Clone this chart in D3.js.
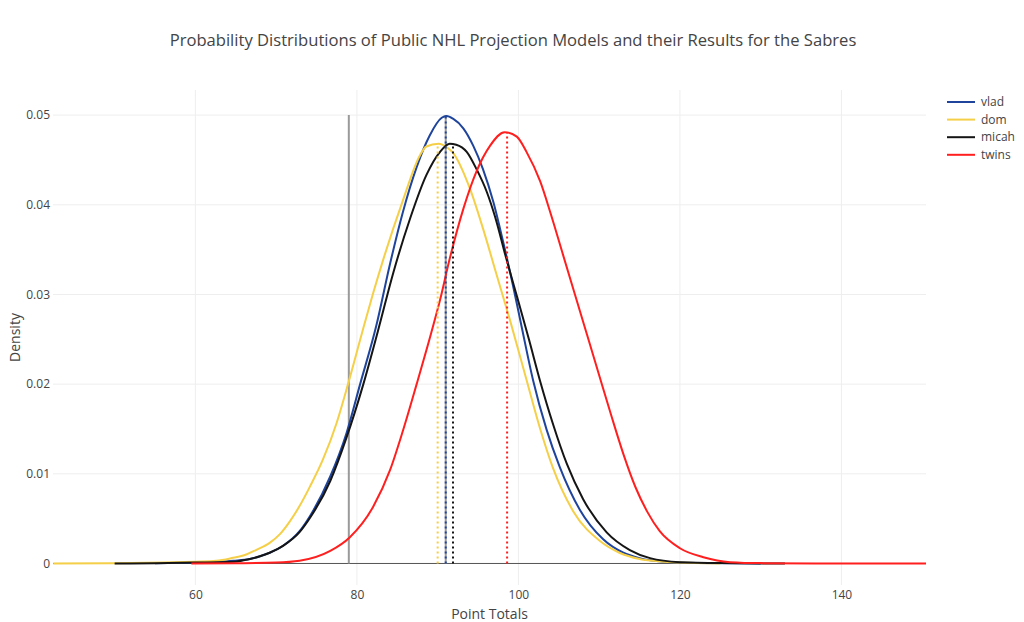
<!DOCTYPE html>
<html>
<head>
<meta charset="utf-8">
<title>Sabres projection models</title>
<script src="https://d3js.org/d3.v7.min.js"></script>
<style>
  body { margin: 0; background: #fff; }
  text { font-family: "Open Sans", "DejaVu Sans", sans-serif; fill: #444; }
</style>
</head>
<body>
<svg width="1024" height="622"></svg>
<script>
// density curves, [points, density]
var vlad = [[55,0.00003],[60,0.0001],[64.7,0.0003],[66.75,0.0005],[68,0.0008],[69.2,0.0012],[70.9,0.0020],[72.9,0.0036],[74.2,0.0053],[76.7,0.0097],[78.7,0.0145],[80.4,0.0200],[82.4,0.0265],[84.1,0.0334],[85.7,0.0392],[87.4,0.0442],[89.0,0.0477],[90.5,0.0497],[91.1,0.0499],[91.9,0.0496],[93.2,0.0485],[94.4,0.0466],[95.6,0.0440],[96.9,0.0403],[98.1,0.0359],[99.4,0.0307],[100.4,0.0264],[101.8,0.0205],[103.5,0.0149],[105.1,0.0108],[107.6,0.0060],[110.5,0.0027],[113,0.0012],[115,0.0006],[118,0.0002],[122,0.00006],[130,0]];
var dom = [[42.4,0],[50,0.00002],[56,0.0001],[60,0.0002],[62.6,0.0003],[64.5,0.0006],[66.3,0.0010],[67.5,0.0015],[69.2,0.0023],[70.5,0.0033],[71.7,0.0047],[72.9,0.0064],[74.2,0.0086],[75.8,0.0116],[77.5,0.0157],[78.9,0.0200],[80.6,0.0256],[82.0,0.0301],[83.3,0.0340],[85.7,0.0405],[87.8,0.0455],[88.6,0.0465],[90.1,0.0468],[91.3,0.0463],[91.9,0.0458],[94.0,0.0418],[95.6,0.0374],[97.3,0.0322],[99.0,0.0270],[101.0,0.0205],[102.7,0.0150],[104.3,0.0106],[106.8,0.0058],[110.1,0.0025],[112.5,0.0012],[115,0.0005],[118,0.0002],[121,0.00007],[125,0]];
var micah = [[50,0],[55,0.00003],[60,0.0001],[64.7,0.0002],[66.75,0.0005],[68,0.0008],[69.2,0.0012],[70.9,0.0020],[72.9,0.0035],[74.2,0.0051],[76.7,0.0092],[78.7,0.0140],[80.8,0.0200],[82.6,0.0259],[84.5,0.0324],[86.6,0.0385],[88.6,0.0433],[90.3,0.0459],[91.5,0.0468],[92.3,0.0467],[93.6,0.0459],[94.8,0.0440],[96.1,0.0414],[97.1,0.0387],[98.5,0.0340],[100.0,0.0292],[101.3,0.0250],[102.7,0.0203],[104.3,0.0155],[106.0,0.0111],[108.0,0.0072],[110.9,0.0035],[113.8,0.0015],[116.3,0.0006],[120,0.00015],[125,0.00004],[133,0]];
var twins = [[59.5,0],[65,0.00003],[70,0.0001],[72.9,0.0003],[76.7,0.0014],[79.1,0.0029],[82.0,0.0063],[84.1,0.0104],[85.7,0.0148],[87.4,0.0200],[89.2,0.0257],[90.3,0.0294],[91.5,0.0340],[93.2,0.0396],[94.8,0.0437],[96.5,0.0466],[98.3,0.0481],[99.8,0.0476],[101.0,0.0459],[102.7,0.0426],[104.0,0.0390],[105.5,0.0345],[107.0,0.0300],[108.5,0.0255],[110.0,0.0210],[111.5,0.0165],[113.0,0.0122],[114.5,0.0085],[116.0,0.0057],[117.5,0.0036],[120.0,0.0017],[122.9,0.0007],[126.2,0.00015],[130,0.00004],[140,0],[150.47,0]];

var seriesNames = ["vlad", "dom", "micah", "twins"];
var seriesColors = ["#1f449c", "#f5cf47", "#151515", "#ff1f1f"];
// model means (dotted) and peak heights
var means = [91.0, 90.0, 91.9, 98.6];
var meanHeights = [0.0499, 0.0468, 0.0468, 0.0481];
// solid grey markers
var greyLines = [79, 91.0];
var greyHeight = 0.05;

var xTicks = [60, 80, 100, 120, 140];
var yTicks = [0, 0.01, 0.02, 0.03, 0.04, 0.05];

var svg = d3.select("svg");
var plotLeft = 53, plotRight = 926, plotTop = 90, plotBottom = 585;

var x = d3.scaleLinear().domain([42.37, 150.47]).range([plotLeft, plotRight]);
var y = d3.scaleLinear().domain([-0.0024, 0.0528]).range([plotBottom, plotTop]);

// grid
svg.append("g").selectAll("line").data(xTicks).enter().append("line")
    .attr("x1", function(d) { return x(d); }).attr("x2", function(d) { return x(d); })
    .attr("y1", plotTop).attr("y2", plotBottom)
    .attr("stroke", "#eee").attr("stroke-width", 1);
svg.append("g").selectAll("line").data(yTicks.slice(1)).enter().append("line")
    .attr("x1", plotLeft).attr("x2", plotRight)
    .attr("y1", function(d) { return y(d); }).attr("y2", function(d) { return y(d); })
    .attr("stroke", "#eee").attr("stroke-width", 1);
svg.append("line")
    .attr("x1", plotLeft).attr("x2", plotRight).attr("y1", y(0)).attr("y2", y(0))
    .attr("stroke", "#555").attr("stroke-width", 1);

// tick labels
var xAxis = svg.append("g").attr("transform", "translate(0," + plotBottom + ")")
    .call(d3.axisBottom(x).tickValues(xTicks).tickSize(0).tickPadding(5));
var yAxis = svg.append("g").attr("transform", "translate(" + plotLeft + ",0)")
    .call(d3.axisLeft(y).tickValues(yTicks).tickSize(0).tickPadding(3)
      .tickFormat(function(d) { return d === 0 ? "0" : d3.format(".2f")(d); }));
[xAxis, yAxis].forEach(function(a) {
  a.select(".domain").remove();
  a.selectAll("text").attr("font-size", 12).attr("fill", "#444")
    .attr("font-family", "'Open Sans', 'DejaVu Sans', sans-serif");
});

// grey result lines
svg.append("g").selectAll("line").data(greyLines).enter().append("line")
    .attr("x1", function(d) { return x(d); }).attr("x2", function(d) { return x(d); })
    .attr("y1", y(0)).attr("y2", y(greyHeight))
    .attr("stroke", "#9a9a9a").attr("stroke-width", 2);

var line = d3.line()
    .x(function(d) { return x(d[0]); })
    .y(function(d) { return y(d[1]); })
    .curve(d3.curveMonotoneX);

var data = [vlad, dom, micah, twins];
svg.append("g").selectAll("path").data(data).enter().append("path")
    .attr("d", line)
    .attr("fill", "none")
    .attr("stroke", function(d, i) { return seriesColors[i]; })
    .attr("stroke-width", 2);

// dotted mean lines
svg.append("g").selectAll("line").data(means).enter().append("line")
    .attr("x1", function(d) { return x(d); }).attr("x2", function(d) { return x(d); })
    .attr("y1", y(0)).attr("y2", function(d, i) { return y(meanHeights[i]); })
    .attr("stroke", function(d, i) { return seriesColors[i]; })
    .attr("stroke-width", 2)
    .attr("stroke-dasharray", "2,3");

// legend
var lg = svg.append("g").attr("transform", "translate(947,102)");
var items = lg.selectAll("g").data(seriesNames).enter().append("g")
    .attr("transform", function(d, i) { return "translate(0," + (i * 17.6) + ")"; });
items.append("line").attr("x1", 0).attr("x2", 28).attr("y1", 0).attr("y2", 0)
    .attr("stroke", function(d, i) { return seriesColors[i]; }).attr("stroke-width", 2);
items.append("text").attr("x", 34).attr("y", 0).attr("dy", "0.35em")
    .attr("font-size", 12).text(function(d) { return d; });

// titles
svg.append("text").attr("x", 513).attr("y", 46).attr("text-anchor", "middle")
    .attr("font-size", 16.6)
    .text("Probability Distributions of Public NHL Projection Models and their Results for the Sabres");
svg.append("text").attr("x", (plotLeft + plotRight) / 2).attr("y", 619).attr("text-anchor", "middle")
    .attr("font-size", 14).text("Point Totals");
svg.append("text").attr("transform", "translate(20," + ((plotTop + plotBottom) / 2) + ") rotate(-90)")
    .attr("text-anchor", "middle").attr("font-size", 14).text("Density");
</script>
</body>
</html>
